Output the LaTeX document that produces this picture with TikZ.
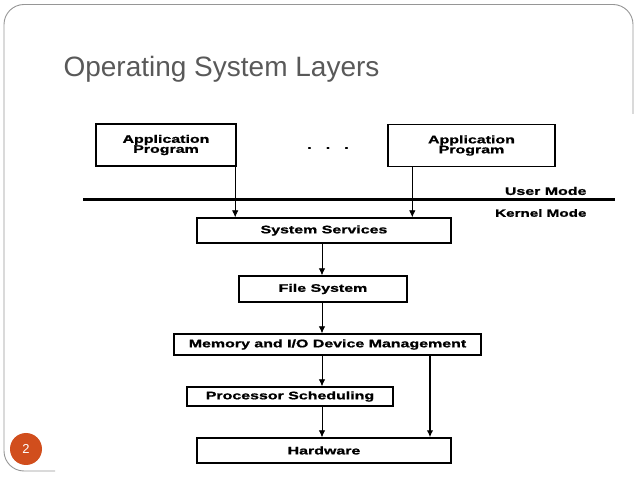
\documentclass[tikz,border=0pt]{standalone}
\usepackage{fontspec}
\setmainfont{Liberation Sans}
\newfontfamily\boxfont[FakeStretch=1.45,FakeBold=1.2]{Liberation Sans Bold}
\usetikzlibrary{arrows.meta}
\definecolor{framegray}{RGB}{150,150,150}
\definecolor{titlegray}{RGB}{89,89,89}
\definecolor{badge}{RGB}{209,78,29}

\begin{document}
\begin{tikzpicture}[x=1pt,y=-1pt,
  layer/.style={draw,line width=1.4pt,inner sep=0pt,font=\boxfont\fontsize{11}{10}\selectfont,align=center},
  call/.style={-{Latex[length=7pt,width=6.5pt]},line width=0.8pt}]
\useasboundingbox (0,0) rectangle (638,478);
\draw[framegray,line width=0.9pt,rounded corners=20pt] (55,471) -- (4,471) -- (4,4.5) -- (633,4.5) -- (633,114);
\node[anchor=base west,text=titlegray,font=\fontsize{28}{32}\selectfont] (title) at (60,77) {Operating System Layers};
\node[circle,fill=badge,minimum size=32pt,inner sep=0pt,text=white,font=\fontsize{13}{15}\selectfont] (page) at (26,449) {2};

\node[layer,minimum width=140pt,minimum height=42pt] (app1) at (166,145) {Application\\Program};
\node[layer,minimum width=167pt,minimum height=42pt] (app2) at (471.5,145.5) {Application\\Program};
\node[font=\boxfont\fontsize{11}{10}\selectfont] (dots) at (328,148) {.\hspace{14pt}.\hspace{14pt}.};

\coordinate (sepL) at (83,200);
\coordinate (sepR) at (615,200);
\draw[line width=3pt] (sepL) -- (sepR);
\node[anchor=east,font=\boxfont\fontsize{11}{10}\selectfont] (user) at (590,191) {User Mode};
\node[anchor=east,font=\boxfont\fontsize{10.5}{10}\selectfont] (kernel) at (590,213) {Kernel Mode};

\node[layer,minimum width=254pt,minimum height=25pt] (ss) at (324,230.5) {System Services};
\node[layer,minimum width=168pt,minimum height=26pt] (fs) at (323,289) {File System};
\node[layer,minimum width=307pt,minimum height=21pt] (mem) at (327.5,344.5) {Memory and I/O Device Management};
\node[layer,minimum width=206pt,minimum height=19pt] (proc) at (290,396.5) {Processor Scheduling};
\node[layer,minimum width=254pt,minimum height=25pt] (hw) at (324,450.5) {Hardware};

% calls into the kernel
\draw[call] ([xshift=-1.5pt]app1.south east) -- ([xshift=-1.5pt]app1.south east |- ss.north);
\draw[call] ([xshift=25pt]app2.south west) -- ([xshift=25pt]app2.south west |- ss.north);
\draw[call] (ss.south -| 322,0) -- (fs.north -| 322,0);
\draw[call] (fs.south -| 322,0) -- (mem.north -| 322,0);
\draw[call] (mem.south -| 322,0) -- (proc.north -| 322,0);
\draw[call] (proc.south -| 322,0) -- (hw.north -| 322,0);
\draw[call,line width=1.6pt] (mem.south -| 430,0) -- (hw.north -| 430,0);
\end{tikzpicture}
\end{document}
